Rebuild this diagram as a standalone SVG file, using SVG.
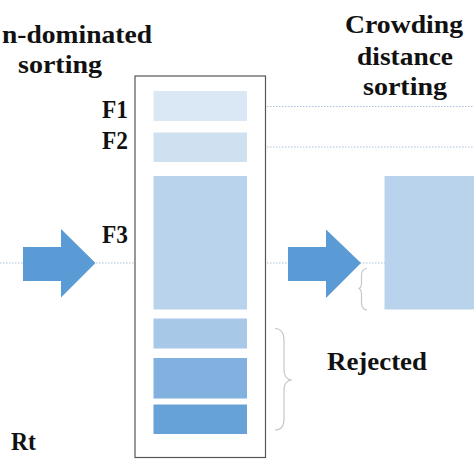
<svg xmlns="http://www.w3.org/2000/svg" width="474" height="474" viewBox="0 0 474 474">
<style>
.t{font-family:"Liberation Serif","DejaVu Serif",serif;font-weight:bold;font-size:26px;fill:#111}
.dot{stroke:#a9c3dc;stroke-width:1;stroke-dasharray:1.5 1.5;fill:none}
.brace{stroke:#c4c8cc;stroke-width:1.2;fill:none}
.arrow{fill:#5b9bd5}
</style>
<rect width="474" height="474" fill="#fff"/>
<g id="connectors">
<line class="dot" x1="246" y1="106.5" x2="474" y2="106.5"/>
<line class="dot" x1="252" y1="147" x2="474" y2="147"/>
<line class="dot" x1="0" y1="263" x2="474" y2="263"/>
</g>
<g id="labels">
<text class="t" x="2" y="43" textLength="150" lengthAdjust="spacingAndGlyphs">n-dominated</text>
<text class="t" x="18" y="73" textLength="84" lengthAdjust="spacingAndGlyphs">sorting</text>
<text class="t" x="345" y="33" textLength="118" lengthAdjust="spacingAndGlyphs">Crowding</text>
<text class="t" x="357" y="65" textLength="96" lengthAdjust="spacingAndGlyphs">distance</text>
<text class="t" x="363" y="95" textLength="84" lengthAdjust="spacingAndGlyphs">sorting</text>
</g>
<g id="population">
<rect x="135" y="76" width="130.5" height="381.5" fill="#fff" stroke="#555" stroke-width="1.2"/>
</g>
<g id="F1">
<rect x="153.5" y="91" width="93.5" height="30" fill="#dae7f4"/>
<text class="t" x="102" y="118" textLength="26" lengthAdjust="spacingAndGlyphs">F1</text>
</g>
<g id="F2">
<rect x="153.5" y="132.5" width="93.5" height="29.5" fill="#cfe0f1"/>
<text class="t" x="102" y="149" textLength="26" lengthAdjust="spacingAndGlyphs">F2</text>
</g>
<g id="F3">
<rect x="153.5" y="176" width="93.5" height="133.5" fill="#b9d3ec"/>
<text class="t" x="102" y="243" textLength="26" lengthAdjust="spacingAndGlyphs">F3</text>
</g>
<g id="F4"><rect x="153.5" y="318.5" width="93.5" height="30" fill="#a8c8e8"/></g>
<g id="F5"><rect x="153.5" y="358" width="93.5" height="40.5" fill="#82b1df"/></g>
<g id="F6"><rect x="153.5" y="404.5" width="93.5" height="29.5" fill="#66a1d8"/></g>
<g id="arrow-left">
<polygon class="arrow" points="23,247 61,247 61,229 95.5,263 61,297.5 61,281 23,281"/>
</g>
<g id="arrow-right">
<polygon class="arrow" points="288,247 326,247 326,229.5 361,263 326,298 326,281 288,281"/>
</g>
<g id="new-population">
<rect x="384.5" y="176" width="90" height="133.5" fill="#b9d3ec"/>
<path class="brace" d="M367,268.5 Q361.5,269 361.5,275 L361.5,283 Q361.5,288 358.5,288.5 Q361.5,289 361.5,294 L361.5,303 Q361.5,309.5 367,310"/>
</g>
<g id="rejected">
<path class="brace" d="M275,328.5 Q284,329 284,340 L284,370 Q284,379 291.5,380 Q284,381 284,390 L284,419 Q284,430 275,430"/>
<text class="t" x="327" y="370" textLength="100" lengthAdjust="spacingAndGlyphs">Rejected</text>
</g>
<g id="Rt">
<text class="t" x="11" y="450" textLength="25" lengthAdjust="spacingAndGlyphs">Rt</text>
</g>
</svg>
